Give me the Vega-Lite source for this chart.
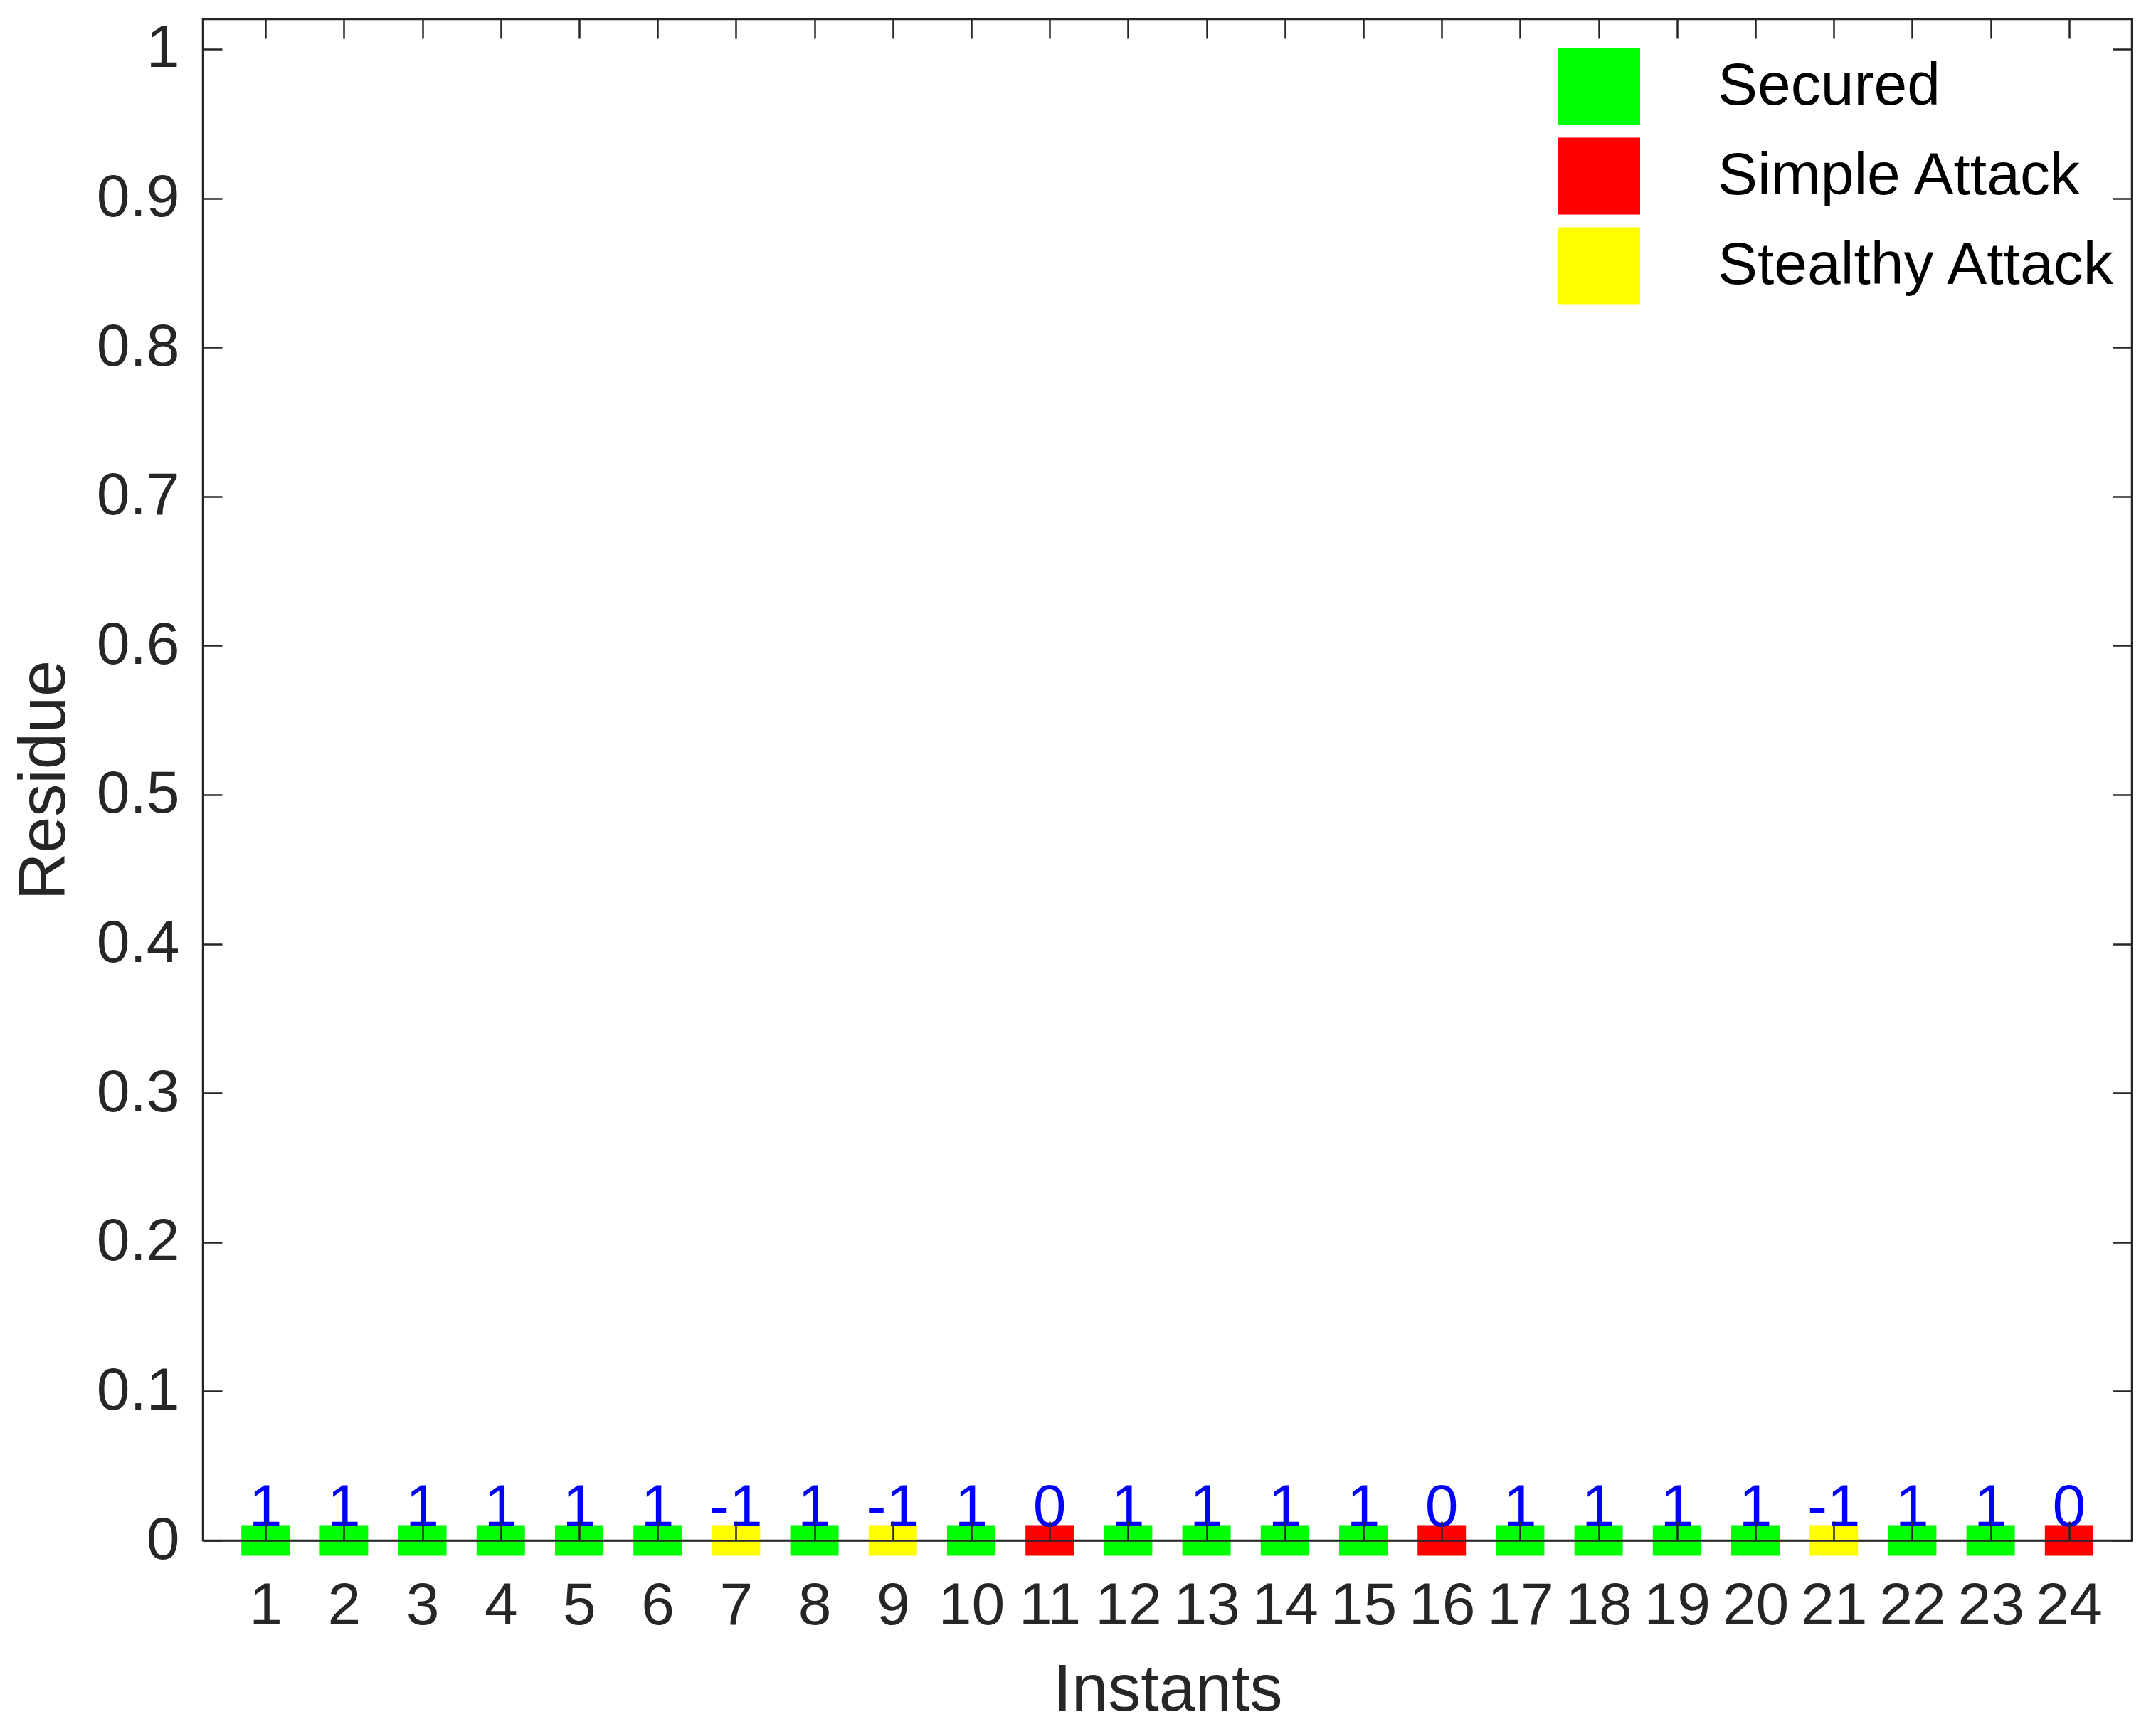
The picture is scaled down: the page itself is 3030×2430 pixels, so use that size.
{
  "$schema": "https://vega.github.io/schema/vega-lite/v6.json",
  "width": 2711,
  "height": 2138,
  "autosize": {"type": "none"},
  "padding": {"left": 285, "top": 27, "right": 34, "bottom": 265},
  "background": "white",
  "config": {
    "font": "Liberation Sans",
    "view": {"stroke": "#262626", "strokeWidth": 2.5}
  },
  "data": {
    "values": [
      {"instant": 1, "residue": 0, "status": "Secured", "label": "1"},
      {"instant": 2, "residue": 0, "status": "Secured", "label": "1"},
      {"instant": 3, "residue": 0, "status": "Secured", "label": "1"},
      {"instant": 4, "residue": 0, "status": "Secured", "label": "1"},
      {"instant": 5, "residue": 0, "status": "Secured", "label": "1"},
      {"instant": 6, "residue": 0, "status": "Secured", "label": "1"},
      {"instant": 7, "residue": 0, "status": "Stealthy Attack", "label": "-1"},
      {"instant": 8, "residue": 0, "status": "Secured", "label": "1"},
      {"instant": 9, "residue": 0, "status": "Stealthy Attack", "label": "-1"},
      {"instant": 10, "residue": 0, "status": "Secured", "label": "1"},
      {"instant": 11, "residue": 0, "status": "Simple Attack", "label": "0"},
      {"instant": 12, "residue": 0, "status": "Secured", "label": "1"},
      {"instant": 13, "residue": 0, "status": "Secured", "label": "1"},
      {"instant": 14, "residue": 0, "status": "Secured", "label": "1"},
      {"instant": 15, "residue": 0, "status": "Secured", "label": "1"},
      {"instant": 16, "residue": 0, "status": "Simple Attack", "label": "0"},
      {"instant": 17, "residue": 0, "status": "Secured", "label": "1"},
      {"instant": 18, "residue": 0, "status": "Secured", "label": "1"},
      {"instant": 19, "residue": 0, "status": "Secured", "label": "1"},
      {"instant": 20, "residue": 0, "status": "Secured", "label": "1"},
      {"instant": 21, "residue": 0, "status": "Stealthy Attack", "label": "-1"},
      {"instant": 22, "residue": 0, "status": "Secured", "label": "1"},
      {"instant": 23, "residue": 0, "status": "Secured", "label": "1"},
      {"instant": 24, "residue": 0, "status": "Simple Attack", "label": "0"}
    ]
  },
  "layer": [
    {
      "mark": {
        "type": "point",
        "shape": "M-1,-0.63L1,-0.63L1,0.63L-1,0.63Z",
        "size": 4624,
        "filled": true,
        "opacity": 1,
        "strokeWidth": 0
      },
      "encoding": {
        "x": {
          "field": "instant",
          "type": "quantitative",
          "scale": {"domain": [0.2, 24.8], "nice": false, "zero": false},
          "axis": {
            "orient": "bottom",
            "values": [1, 2, 3, 4, 5, 6, 7, 8, 9, 10, 11, 12, 13, 14, 15, 16, 17, 18, 19, 20, 21, 22, 23, 24],
            "format": "d",
            "grid": false,
            "labelFont": "Liberation Sans",
            "labelFontSize": 84,
            "labelColor": "#262626",
            "labelBaseline": "top",
            "labelPadding": 78,
            "labelFlush": false,
            "labelOverlap": false,
            "tickSize": -27,
            "tickWidth": 2.5,
            "tickColor": "#262626",
            "domainColor": "#262626",
            "domainWidth": 2.5,
            "title": "Instants",
            "titleFont": "Liberation Sans",
            "titleFontSize": 92,
            "titleFontWeight": "normal",
            "titleColor": "#262626",
            "titleX": 1356,
            "titleY": 238,
            "titleAlign": "center",
            "titleBaseline": "alphabetic",
            "zindex": 1
          }
        },
        "y": {
          "field": "residue",
          "type": "quantitative",
          "scale": {"domain": [0, 1.02], "nice": false},
          "axis": {
            "orient": "left",
            "values": [0, 0.1, 0.2, 0.3, 0.4, 0.5, 0.6, 0.7, 0.8, 0.9, 1],
            "format": "~g",
            "grid": false,
            "labelFont": "Liberation Sans",
            "labelFontSize": 84,
            "labelColor": "#262626",
            "labelPadding": 60,
            "labelFlush": false,
            "labelOverlap": false,
            "tickSize": -27,
            "tickWidth": 2.5,
            "tickColor": "#262626",
            "domainColor": "#262626",
            "domainWidth": 2.5,
            "title": "Residue",
            "titleFont": "Liberation Sans",
            "titleFontSize": 92,
            "titleFontWeight": "normal",
            "titleColor": "#262626",
            "titleX": -195,
            "titleY": 1069,
            "titleAngle": 270,
            "titleAlign": "center",
            "titleBaseline": "alphabetic",
            "zindex": 1
          }
        },
        "color": {
          "field": "status",
          "type": "nominal",
          "scale": {
            "domain": ["Secured", "Simple Attack", "Stealthy Attack"],
            "range": ["#00ff00", "#ff0000", "#ffff00"]
          },
          "legend": {
            "title": null,
            "orient": "none",
            "legendX": 1905,
            "legendY": 37,
            "padding": 0,
            "direction": "vertical",
            "symbolType": "M-1,-0.94L1,-0.94L1,0.94L-1,0.94Z",
            "symbolSize": 13225,
            "symbolStrokeWidth": 0,
            "symbolOpacity": 1,
            "labelFont": "Liberation Sans",
            "labelFontSize": 84,
            "labelColor": "black",
            "labelOffset": 109,
            "labelLimit": 1000,
            "rowPadding": 14,
            "encode": {
              "symbols": {
                "update": {
                  "shape": {"value": "M-1,-0.94L1,-0.94L1,0.94L-1,0.94Z"},
                  "opacity": {"value": 1},
                  "strokeWidth": {"value": 0}
                }
              }
            }
          }
        }
      }
    },
    {
      "mark": {
        "type": "text",
        "font": "Liberation Sans",
        "fontSize": 84,
        "color": "#0000ff",
        "align": "center",
        "baseline": "alphabetic",
        "dy": -20
      },
      "encoding": {
        "x": {
          "field": "instant",
          "type": "quantitative",
          "scale": {"domain": [0.2, 24.8], "nice": false, "zero": false},
          "axis": {
            "orient": "top",
            "values": [1, 2, 3, 4, 5, 6, 7, 8, 9, 10, 11, 12, 13, 14, 15, 16, 17, 18, 19, 20, 21, 22, 23, 24],
            "labels": false,
            "domain": false,
            "grid": false,
            "tickSize": -27,
            "tickWidth": 2.5,
            "tickColor": "#262626",
            "title": null
          }
        },
        "y": {
          "field": "residue",
          "type": "quantitative",
          "scale": {"domain": [0, 1.02], "nice": false},
          "axis": {
            "orient": "right",
            "values": [0, 0.1, 0.2, 0.3, 0.4, 0.5, 0.6, 0.7, 0.8, 0.9, 1],
            "labels": false,
            "domain": false,
            "grid": false,
            "tickSize": -27,
            "tickWidth": 2.5,
            "tickColor": "#262626",
            "title": null
          }
        },
        "text": {"field": "label", "type": "nominal"}
      }
    }
  ],
  "resolve": {"axis": {"x": "independent", "y": "independent"}}
}
